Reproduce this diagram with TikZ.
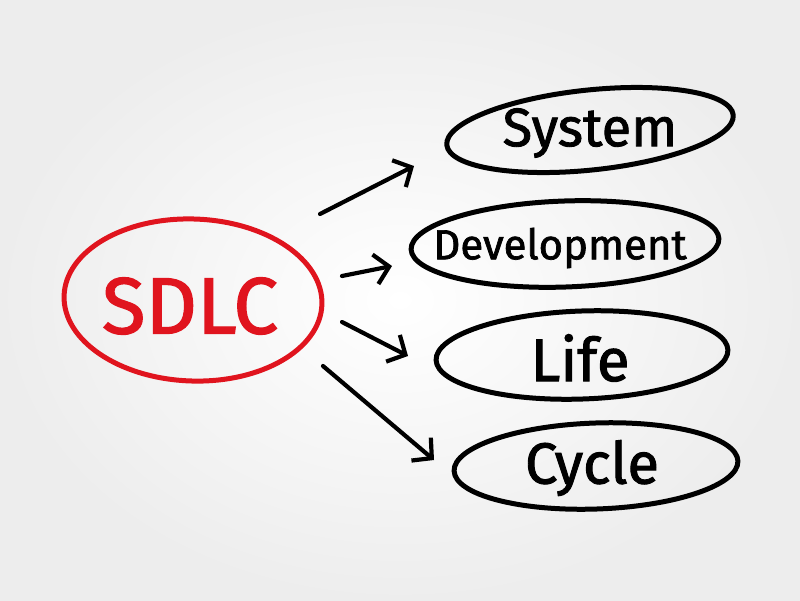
\documentclass[tikz,border=0pt]{standalone}
\usepackage{fontspec}
\setmainfont{Fira Sans}
\newfontfamily\hand{Fira Sans}[FakeBold=1.6]
\usetikzlibrary{shapes.geometric,arrows.meta}
\definecolor{sdlcred}{HTML}{E0141E}
\tikzset{
  term/.style={draw=black, line width=5pt, ellipse, inner sep=0pt},
  main/.style={draw=sdlcred, line width=5pt, ellipse, inner sep=0pt},
  arr/.style={line width=4.2pt, line cap=round, -{Straight Barb[length=14pt,width=30pt,line width=4.2pt]}},
  lbl/.style={font=\hand\fontsize{54}{58}\selectfont, text=black},
}
\begin{document}
\begin{tikzpicture}[x=1pt,y=-1pt]
\shade[inner color=white, outer color=black!7] (0,0) rectangle (800,600);
\useasboundingbox (0,0) rectangle (800,600);
\node[main, minimum width=258pt, minimum height=162pt, rotate=-2] (sdlc) at (193,300) {};
\node[text=sdlcred, font=\hand\fontsize{80}{84}\selectfont] (sdlct) at (190,306) {SDLC};
\node[term, minimum width=288pt, minimum height=80pt, rotate=6] (sys) at (590,130) {};
\node[lbl] (syst) at (590,133) {System};
\node[term, minimum width=308pt, minimum height=86pt, rotate=2] (dev) at (565,244) {};
\node[lbl, font=\hand\fontsize{42}{46}\selectfont] (devt) at (560,248) {Development};
\node[term, minimum width=292pt, minimum height=88pt, rotate=2] (life) at (582,355) {};
\node[lbl, font=\hand\fontsize{60}{64}\selectfont] (lifet) at (580,358) {Life};
\node[term, minimum width=284pt, minimum height=86pt, rotate=2] (cyc) at (596,466) {};
\node[lbl, font=\hand\fontsize{58}{62}\selectfont] (cyct) at (592,468) {Cycle};
\coordinate (a1s) at (320,214); \coordinate (a1e) at (414,166);
\coordinate (a2s) at (342,276); \coordinate (a2e) at (392,266);
\coordinate (a3s) at (342,322); \coordinate (a3e) at (408,356);
\coordinate (a4s) at (323,366); \coordinate (a4e) at (434,460);
\draw[arr] (a1s) -- (a1e);
\draw[arr] (a2s) -- (a2e);
\draw[arr] (a3s) -- (a3e);
\draw[arr] (a4s) -- (a4e);
\end{tikzpicture}
\end{document}
